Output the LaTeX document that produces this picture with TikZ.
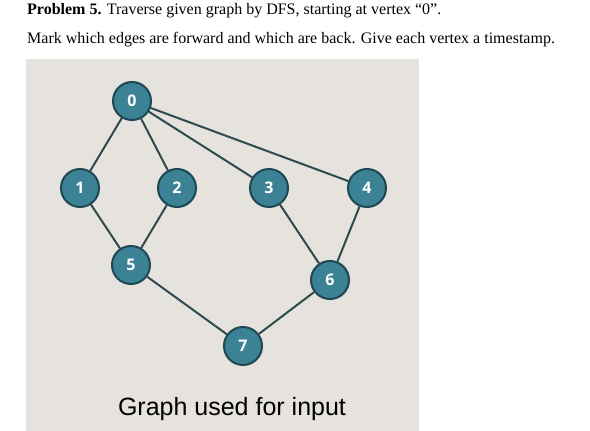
\documentclass[tikz,border=0pt]{standalone}
\usepackage{fontspec}
\setmainfont{Liberation Serif}
\newfontfamily\vertexfont{Open Sans}
\newfontfamily\capfont{Liberation Sans}
\usepackage{xcolor}
\usepackage{tikz}
\usetikzlibrary{positioning,backgrounds}

\definecolor{paneGray}{HTML}{E6E3DF}
\definecolor{vertexTeal}{HTML}{3A8294}
\definecolor{vertexRim}{HTML}{1F4852}
\definecolor{edgeSlate}{HTML}{2F4A4F}

\begin{document}
\begin{tikzpicture}[
  x=1pt, y=-1pt,
  vtx/.style={circle, draw=vertexRim, line width=2pt, fill=vertexTeal,
              minimum size=38pt, inner sep=0pt, text=white,
              font=\vertexfont\bfseries\fontsize{16}{16}\selectfont},
  e/.style={draw=edgeSlate, line width=2pt},
  txt/.style={anchor=base west, inner sep=0pt,
              font=\fontsize{16}{18}\selectfont}
]
  \useasboundingbox (0,0) rectangle (590,431);
  % problem statement
  \node[txt] (L1) at (27,14) {\textbf{Problem 5.} Traverse given graph by DFS, starting at vertex “0”.};
  \node[txt] (L2) at (27,43) {Mark which edges are forward and which are back. Give each vertex a timestamp.};
  % grey panel
  \begin{scope}[on background layer]
    \fill[paneGray] (26,59) rectangle (419,431);
  \end{scope}
  % vertices
  \node[vtx] (V0) at (132,101) {0};
  \node[vtx] (V1) at (80,188)  {1};
  \node[vtx] (V2) at (177,188) {2};
  \node[vtx] (V3) at (269,188) {3};
  \node[vtx] (V4) at (367,188) {4};
  \node[vtx] (V5) at (131,265) {5};
  \node[vtx] (V6) at (330,280) {6};
  \node[vtx] (V7) at (243,346) {7};
  % caption
  \node[anchor=base, font=\capfont\fontsize{25}{25}\selectfont] (cap) at (232,415) {Graph used for input};

  % edges
  \begin{scope}[on background layer]
    \draw[e] (V0)--(V1); \draw[e] (V0)--(V2); \draw[e] (V0)--(V3);
    \draw[e] (V0)--(V4); \draw[e] (V1)--(V5); \draw[e] (V2)--(V5);
    \draw[e] (V3)--(V6); \draw[e] (V4)--(V6); \draw[e] (V5)--(V7);
    \draw[e] (V6)--(V7);
  \end{scope}
\end{tikzpicture}
\end{document}
